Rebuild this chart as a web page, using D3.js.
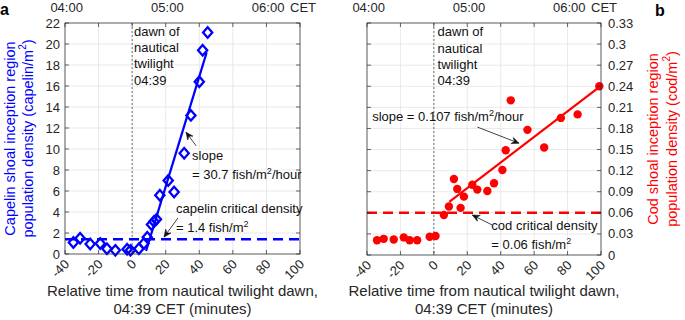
<!DOCTYPE html>
<html><head><meta charset="utf-8">
<script src="https://cdn.jsdelivr.net/npm/d3@7"></script>
<style>
html,body{margin:0;padding:0;background:#fff;}
text{font-family:"Liberation Sans",Arial,Helvetica,sans-serif;}
</style></head>
<body><svg id="chart" width="685" height="320"></svg>
<script>
// ---------- data ----------
const xTicks = [-40, -20, 0, 20, 40, 60, 80, 100];
const topTickLabels = ["04:00", "05:00", "06:00"];
const topTickMinutes = [-39, 21, 81];

// Panel a: capelin
const capelinMinutes = [-35, -31, -25, -19, -15, -10, -3, -1, 4, 7, 9, 11.5, 13, 14.5, 16.5, 21.5, 25, 31, 35, 40, 42, 45];
const capelinDensity = [1.1, 1.5, 0.95, 1.0, 0.5, 0.35, 0.45, 0.35, 0.5, 1.0, 1.6, 2.8, 3.1, 3.3, 5.6, 7.0, 5.9, 9.6, 13.2, 16.4, 19.4, 21.1];
const capelinFitMinutes = [8.3, 44.4];
const capelinFitDensity = [0.3, 19.2];
const capelinCritical = 1.4;
const capelinYTicks = [0, 2, 4, 6, 8, 10, 12, 14, 16, 18, 20, 22];

// Panel b: cod
const codMinutes = [-34, -30, -24, -18, -14.5, -10, -2.5, 1, 6, 9, 12, 14, 16, 18, 23, 26, 32, 36, 41, 43, 46, 56, 66, 76, 86, 99];
const codDensity = [0.021, 0.023, 0.022, 0.025, 0.021, 0.021, 0.026, 0.027, 0.057, 0.069, 0.108, 0.094, 0.067, 0.083, 0.1, 0.093, 0.091, 0.102, 0.121, 0.149, 0.22, 0.178, 0.153, 0.195, 0.2, 0.24];
const codFitMinutes = [9.2, 99.1];
const codFitDensity = [0.0757, 0.239];
const codCritical = 0.06;
const codYTicks = [0, 0.03, 0.06, 0.09, 0.12, 0.15, 0.18, 0.21, 0.24, 0.27, 0.3, 0.33];

// ---------- drawing ----------
const svg = d3.select("#chart");
const BLUE = "#0000ff", RED = "#ff0000", AX = "#262626", GRID = "#e3e3e3";

function drawPanel(o) {
  const x = d3.scaleLinear().domain([-40, 100]).range([o.x0, o.x1]);
  const y = d3.scaleLinear().domain([0, o.ymax]).range([o.y1, o.y0]);
  const g = svg.append("g");

  // grid
  g.selectAll(".gx").data(xTicks).join("line")
    .attr("x1", d => x(d)).attr("x2", d => x(d)).attr("y1", o.y0).attr("y2", o.y1)
    .attr("stroke", GRID).attr("stroke-width", 0.8);
  g.selectAll(".gy").data(o.yTicks).join("line")
    .attr("x1", o.x0).attr("x2", o.x1).attr("y1", d => y(d)).attr("y2", d => y(d))
    .attr("stroke", GRID).attr("stroke-width", 0.8);

  // dawn line
  g.append("line").attr("x1", x(0)).attr("x2", x(0)).attr("y1", o.y0).attr("y2", o.y1)
    .attr("stroke", "#555").attr("stroke-width", 0.8).attr("stroke-dasharray", "2,2");

  // critical density dashed line
  g.append("line").attr("x1", o.x0).attr("x2", o.x1)
    .attr("y1", y(o.critical)).attr("y2", y(o.critical))
    .attr("stroke", o.color).attr("stroke-width", 2.4).attr("stroke-dasharray", "10,6");

  // fit line
  g.append("path").datum(d3.zip(o.fitX, o.fitY))
    .attr("d", d3.line().x(d => x(d[0])).y(d => y(d[1])))
    .attr("stroke", o.color).attr("stroke-width", 2.2).attr("fill", "none");

  // points
  const pts = d3.zip(o.px, o.py);
  if (o.marker === "diamond") {
    g.selectAll(".pt").data(pts).join("path")
      .attr("d", "M0,-5.2L4.6,0L0,5.2L-4.6,0Z")
      .attr("transform", d => `translate(${x(d[0])},${y(d[1])})`)
      .attr("fill", "none").attr("stroke", o.color).attr("stroke-width", 2.3);
  } else {
    g.selectAll(".pt").data(pts).join("circle")
      .attr("cx", d => x(d[0])).attr("cy", d => y(d[1])).attr("r", 4.2)
      .attr("fill", o.color);
  }

  // box
  g.append("rect").attr("x", o.x0).attr("y", o.y0).attr("width", o.x1 - o.x0).attr("height", o.y1 - o.y0)
    .attr("fill", "none").attr("stroke", AX).attr("stroke-width", 0.7);

  // ticks (inward) on all sides
  const tl = 4;
  xTicks.forEach(t => {
    g.append("line").attr("x1", x(t)).attr("x2", x(t)).attr("y1", o.y1).attr("y2", o.y1 - tl).attr("stroke", AX).attr("stroke-width", 0.7);
    g.append("line").attr("x1", x(t)).attr("x2", x(t)).attr("y1", o.y0).attr("y2", o.y0 + tl).attr("stroke", AX).attr("stroke-width", 0.7);
  });
  o.yTicks.forEach(t => {
    g.append("line").attr("x1", o.x0).attr("x2", o.x0 + tl).attr("y1", y(t)).attr("y2", y(t)).attr("stroke", AX).attr("stroke-width", 0.7);
    g.append("line").attr("x1", o.x1).attr("x2", o.x1 - tl).attr("y1", y(t)).attr("y2", y(t)).attr("stroke", AX).attr("stroke-width", 0.7);
  });

  // x tick labels (rotated)
  g.selectAll(".xl").data(xTicks).join("text")
    .attr("transform", d => `translate(${x(d) + 5},${o.y1 + 11}) rotate(-45)`)
    .attr("text-anchor", "end").attr("font-size", 13).attr("fill", AX)
    .text(d => d);

  // y tick labels
  g.selectAll(".yl").data(o.yTicks).join("text")
    .attr("x", o.yLabelSide === "left" ? o.x0 - 5 : o.x1 + 7)
    .attr("y", d => y(d)).attr("dy", "0.35em")
    .attr("text-anchor", o.yLabelSide === "left" ? "end" : "start")
    .attr("font-size", 13).attr("fill", AX)
    .text(d => o.yFmt(d));

  // top time labels
  g.selectAll(".tl").data(topTickLabels).join("text")
    .attr("x", (d, i) => x(topTickMinutes[i])).attr("y", 12)
    .attr("text-anchor", "middle").attr("font-size", 13).attr("fill", AX).text(d => d);
  g.append("text").attr("x", o.x1 - 10).attr("y", 12).attr("font-size", 13).attr("fill", AX).text("CET");

  // x axis label
  const cx = (o.x0 + o.x1) / 2;
  g.append("text").attr("x", cx).attr("y", 296).attr("text-anchor", "middle").attr("font-size", 15).attr("fill", AX)
    .text("Relative time from nautical twilight dawn,");
  g.append("text").attr("x", cx).attr("y", 314).attr("text-anchor", "middle").attr("font-size", 15).attr("fill", AX)
    .text("04:39 CET (minutes)");

  // y axis label
  const cy = (o.y0 + o.y1) / 2;
  o.yLabel.forEach((line, i) => {
    const t = g.append("text")
      .attr("transform", `translate(${o.yLabelX[i]},${cy}) rotate(-90)`)
      .attr("text-anchor", "middle").attr("dominant-baseline", "central")
      .attr("font-size", 14.5).attr("fill", o.color);
    line.forEach(seg => {
      const s = t.append("tspan").text(seg.t);
      if (seg.sup) s.attr("baseline-shift", "super").attr("font-size", 10);
    });
  });

  // dawn annotation
  ["dawn of", "nautical", "twilight", "04:39"].forEach((s, i) => {
    g.append("text").attr("x", x(o.dawnAt[0])).attr("y", y(o.dawnAt[1]) + i * 16.2)
      .attr("font-size", 13).attr("fill", "#111").text(s);
  });

  // annotation texts
  o.notes.forEach(n => {
    const t = g.append("text").attr("x", x(n.at[0])).attr("y", y(n.at[1]))
      .attr("font-size", 13).attr("fill", "#111");
    n.segs.forEach(seg => {
      const s = t.append("tspan").text(seg.t);
      if (seg.sup) s.attr("baseline-shift", "super").attr("font-size", 9);
    });
  });

  // arrows
  o.arrows.forEach(a => {
    const x1 = x(a.from[0]), y1 = y(a.from[1]), x2 = x(a.to[0]), y2 = y(a.to[1]);
    const ang = Math.atan2(y2 - y1, x2 - x1), L = 8, W = 0.42;
    g.append("line").attr("x1", x1).attr("y1", y1).attr("x2", x2).attr("y2", y2)
      .attr("stroke", "#111").attr("stroke-width", 0.8);
    const p1 = [x2 - L * Math.cos(ang - W), y2 - L * Math.sin(ang - W)];
    const p2 = [x2 - L * Math.cos(ang + W), y2 - L * Math.sin(ang + W)];
    const pb = [x2 - L * 0.6 * Math.cos(ang), y2 - L * 0.6 * Math.sin(ang)];
    g.append("path").attr("d", `M${p1}L${x2},${y2}L${p2}L${pb}Z`).attr("fill", "#111").attr("stroke", "#111").attr("stroke-width", 0.6);
  });

  // panel letter
  g.append("text").attr("x", o.letterAt[0]).attr("y", o.letterAt[1]).attr("font-size", 16)
    .attr("font-weight", "bold").attr("fill", "#000").text(o.letter);
}

drawPanel({
  x0: 65, x1: 300, y0: 23, y1: 254, ymax: 22, yTicks: capelinYTicks, yFmt: d => d,
  yLabelSide: "left", color: BLUE, marker: "diamond",
  px: capelinMinutes, py: capelinDensity, fitX: capelinFitMinutes, fitY: capelinFitDensity,
  critical: capelinCritical,
  yLabel: [[{t: "Capelin shoal inception region"}], [{t: "population density (capelin/m"}, {t: "2", sup: true}, {t: ")"}]],
  yLabelX: [10, 28],
  dawnAt: [1.1, 20.76],
  notes: [
    {at: [35.7, 8.95], segs: [{t: "slope"}]},
    {at: [35.7, 7.14], segs: [{t: "= 30.7 fish/m"}, {t: "2", sup: true}, {t: "/hour"}]},
    {at: [26.1, 3.9], segs: [{t: "capelin critical density"}]},
    {at: [26.1, 2.1], segs: [{t: "= 1.4 fish/m"}, {t: "2", sup: true}]}
  ],
  arrows: [
    {from: [38.1, 10.3], to: [32.1, 11.6]},
    {from: [27.3, 3.43], to: [19.0, 1.62]}
  ],
  letter: "a", letterAt: [0, 15]
});

drawPanel({
  x0: 367, x1: 601, y0: 23, y1: 255, ymax: 0.33, yTicks: codYTicks,
  yFmt: d => d === 0 ? "0" : String(+d.toFixed(2)),
  yLabelSide: "right", color: RED, marker: "circle",
  px: codMinutes, py: codDensity, fitX: codFitMinutes, fitY: codFitDensity,
  critical: codCritical,
  yLabel: [[{t: "Cod shoal inception region"}], [{t: "population density (cod/m"}, {t: "2", sup: true}, {t: ")"}]],
  yLabelX: [653, 672],
  dawnAt: [2.2, 0.311],
  notes: [
    {at: [-36.9, 0.19], segs: [{t: "slope = 0.107 fish/m"}, {t: "2", sup: true}, {t: "/hour"}]},
    {at: [34.4, 0.0355], segs: [{t: "cod critical density"}]},
    {at: [34.4, 0.0085], segs: [{t: "= 0.06 fish/m"}, {t: "2", sup: true}]}
  ],
  arrows: [
    {from: [26, 0.182], to: [50.9, 0.159]},
    {from: [35, 0.0426], to: [23, 0.0568]}
  ],
  letter: "b", letterAt: [655, 16]
});
</script></body></html>
